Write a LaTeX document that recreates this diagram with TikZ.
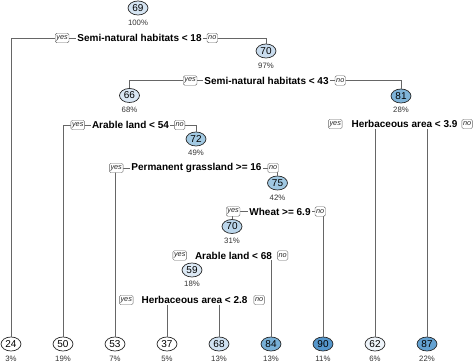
\documentclass[tikz,border=0pt]{standalone}
\usepackage{fontspec}
\setmainfont{Liberation Sans}
\usetikzlibrary{shapes.geometric,positioning}
\definecolor{cw}{HTML}{FFFFFF}
\definecolor{c62}{HTML}{EEF4FA}
\definecolor{c59}{HTML}{DCE9F5}
\definecolor{c66}{HTML}{D9E7F4}
\definecolor{c69}{HTML}{D5E4F2}
\definecolor{c70a}{HTML}{C9DCEE}
\definecolor{c68}{HTML}{D0E2F2}
\definecolor{c70b}{HTML}{BBD6EB}
\definecolor{c72}{HTML}{A3CAE3}
\definecolor{c75}{HTML}{A0C8E2}
\definecolor{c81}{HTML}{7FB4D9}
\definecolor{c84}{HTML}{78B0D7}
\definecolor{c87}{HTML}{64A2D2}
\definecolor{c90}{HTML}{5597CC}
\begin{document}
\begin{tikzpicture}[x=1pt,y=-1pt,
  nd/.style={ellipse, draw=black!85, line width=0.7pt, minimum width=20pt, minimum height=14pt, inner sep=0pt, font=\fontsize{10}{10}\selectfont},
  pct/.style={font=\fontsize{7.8}{8}\selectfont, text=black!80, inner sep=0pt},
  splitlbl/.style={font=\bfseries\fontsize{10}{10}\selectfont, fill=white, inner sep=1pt},
  yn/.style={draw=black!60, rounded corners=1.5pt, fill=white, font=\itshape\fontsize{7.3}{7.3}\selectfont, inner sep=1.2pt, minimum height=9.5pt, text=black!85},
  br/.style={draw=black!60, line width=0.9pt}]
\useasboundingbox (0,0) rectangle (474,363);
% internal nodes
\node[nd, fill=c69] (n69) at (138,8) {69};
\node[pct] (p69) at (138,23) {100\%};
\node[nd, fill=c70a] (n70a) at (266,51) {70};
\node[pct] (p70a) at (266,66) {97\%};
\node[nd, fill=c66] (n66) at (129.5,95.5) {66};
\node[pct] (p66) at (129.5,110) {68\%};
\node[nd, fill=c81] (n81) at (401,96) {81};
\node[pct] (p81) at (401,110) {28\%};
\node[nd, fill=c72] (n72) at (196,139) {72};
\node[pct] (p72) at (196,153) {49\%};
\node[nd, fill=c75] (n75) at (277.5,183) {75};
\node[pct] (p75) at (277.5,197.5) {42\%};
\node[nd, fill=c70b] (n70b) at (232,226.5) {70};
\node[pct] (p70b) at (232,240.5) {31\%};
\node[nd, fill=c59] (n59) at (192,270) {59};
\node[pct] (p59) at (192,283.5) {18\%};
% leaves
\node[nd, fill=cw] (l24) at (11,344) {24};
\node[pct] (q24) at (11,359) {3\%};
\node[nd, fill=cw] (l50) at (63,344) {50};
\node[pct] (q50) at (63,359) {19\%};
\node[nd, fill=cw] (l53) at (115,344) {53};
\node[pct] (q53) at (115,359) {7\%};
\node[nd, fill=cw] (l37) at (167,344) {37};
\node[pct] (q37) at (167,359) {5\%};
\node[nd, fill=c68] (l68) at (219,344) {68};
\node[pct] (q68) at (219,359) {13\%};
\node[nd, fill=c84] (l84) at (271,344) {84};
\node[pct] (q84) at (271,359) {13\%};
\node[nd, fill=c90] (l90) at (323,344) {90};
\node[pct] (q90) at (323,359) {11\%};
\node[nd, fill=c62] (l62) at (375,344) {62};
\node[pct] (q62) at (375,359) {6\%};
\node[nd, fill=c87] (l87) at (427,344) {87};
\node[pct] (q87) at (427,359) {22\%};
% split positions
\coordinate (k1) at (139.5,38);
\coordinate (k2) at (266.5,80.5);
\coordinate (k3) at (130.5,125);
\coordinate (k4) at (404.5,124);
\coordinate (k5) at (196.5,168);
\coordinate (k6) at (280,211.5);
\coordinate (k7) at (233.5,255.5);
\coordinate (k8) at (194.5,300);
% branches
\draw[br] (l24.north) |- (k1) -| (n70a.north);
\draw[br] (n66.north) |- (k2) -| (n81.north);
\draw[br] (l50.north) |- (k3) -| (n72.north);
\draw[br] (l62.north) |- (k4) -| (l87.north);
\draw[br] (l53.north) |- (k5) -| (n75.north);
\draw[br] (n70b.north) |- (k6) -| (l90.north);
\draw[br] (k7) -| (l84.north);
\draw[br] (l37.north) |- (k8) -| (l68.north);
% split labels
\node[splitlbl] (s1) at (k1) {Semi-natural habitats < 18};
\node[yn, left=7pt of s1] (y1) {yes};
\node[yn, right=4pt of s1] (o1) {no};
\node[splitlbl] (s2) at (k2) {Semi-natural habitats < 43};
\node[yn, left=6pt of s2] (y2) {yes};
\node[yn, right=5pt of s2] (o2) {no};
\node[splitlbl] (s3) at (k3) {Arable land < 54};
\node[yn, left=6pt of s3] (y3) {yes};
\node[yn, right=4pt of s3] (o3) {no};
\node[splitlbl] (s4) at (k4) {Herbaceous area < 3.9};
\node[yn, left=8pt of s4] (y4) {yes};
\node[yn, right=3pt of s4] (o4) {no};
\node[splitlbl] (s5) at (k5) {Permanent grassland >= 16};
\node[yn, left=7pt of s5] (y5) {yes};
\node[yn, right=5pt of s5] (o5) {no};
\node[splitlbl] (s6) at (k6) {Wheat >= 6.9};
\node[yn, left=8pt of s6] (y6) {yes};
\node[yn, right=3pt of s6] (o6) {no};
\node[splitlbl] (s7) at (k7) {Arable land < 68};
\node[yn, left=7pt of s7] (y7) {yes};
\node[yn, right=4pt of s7] (o7) {no};
\node[splitlbl] (s8) at (k8) {Herbaceous area < 2.8};
\node[yn, left=7pt of s8] (y8) {yes};
\node[yn, right=5pt of s8] (o8) {no};
\end{tikzpicture}
\end{document}
